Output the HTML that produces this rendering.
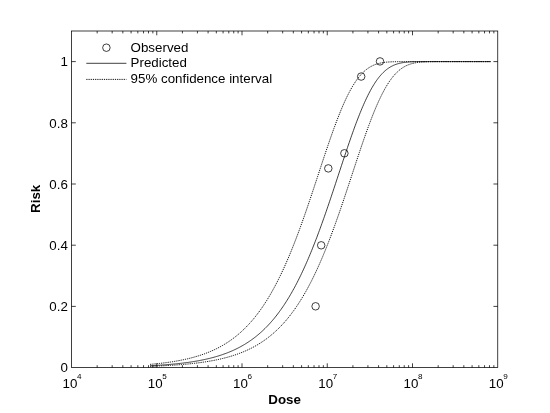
<!DOCTYPE html>
<html><head><meta charset="utf-8"><style>
html,body{margin:0;padding:0;background:#fff;width:550px;height:413px;overflow:hidden}
svg{display:block}
text{font-family:"Liberation Sans",Arial,sans-serif;fill:#000}
</style></head><body>
<svg width="550" height="413" viewBox="0 0 550 413">
<rect width="550" height="413" fill="#fff"/>

<polyline points="150.10,364.37 150.95,364.30 151.80,364.22 152.65,364.14 153.50,364.06 154.35,363.98 155.21,363.90 156.06,363.81 156.91,363.72 157.76,363.63 158.61,363.54 159.46,363.45 160.31,363.35 161.16,363.25 162.01,363.15 162.86,363.05 163.71,362.95 164.56,362.84 165.41,362.73 166.27,362.62 167.12,362.50 167.97,362.38 168.82,362.26 169.67,362.14 170.52,362.01 171.37,361.89 172.22,361.75 173.07,361.62 173.92,361.48 174.77,361.34 175.62,361.20 176.48,361.05 177.33,360.90 178.18,360.75 179.03,360.59 179.88,360.43 180.73,360.26 181.58,360.09 182.43,359.92 183.28,359.75 184.13,359.57 184.98,359.38 185.83,359.19 186.68,359.00 187.54,358.80 188.39,358.60 189.24,358.40 190.09,358.19 190.94,357.97 191.79,357.75 192.64,357.52 193.49,357.29 194.34,357.06 195.19,356.82 196.04,356.57 196.89,356.32 197.75,356.06 198.60,355.80 199.45,355.53 200.30,355.26 201.15,354.98 202.00,354.69 202.85,354.39 203.70,354.09 204.55,353.79 205.40,353.47 206.25,353.15 207.10,352.83 207.95,352.49 208.81,352.15 209.66,351.80 210.51,351.44 211.36,351.08 212.21,350.70 213.06,350.32 213.91,349.93 214.76,349.53 215.61,349.13 216.46,348.71 217.31,348.29 218.16,347.85 219.01,347.41 219.87,346.96 220.72,346.49 221.57,346.02 222.42,345.54 223.27,345.04 224.12,344.54 224.97,344.02 225.82,343.50 226.67,342.96 227.52,342.41 228.37,341.85 229.22,341.28 230.08,340.70 230.93,340.10 231.78,339.49 232.63,338.87 233.48,338.23 234.33,337.59 235.18,336.92 236.03,336.25 236.88,335.56 237.73,334.86 238.58,334.14 239.43,333.41 240.28,332.66 241.14,331.90 241.99,331.12 242.84,330.32 243.69,329.51 244.54,328.69 245.39,327.84 246.24,326.98 247.09,326.11 247.94,325.21 248.79,324.30 249.64,323.37 250.49,322.42 251.35,321.45 252.20,320.47 253.05,319.46 253.90,318.44 254.75,317.40 255.60,316.33 256.45,315.25 257.30,314.15 258.15,313.02 259.00,311.88 259.85,310.71 260.70,309.52 261.55,308.31 262.41,307.08 263.26,305.82 264.11,304.55 264.96,303.25 265.81,301.93 266.66,300.58 267.51,299.21 268.36,297.82 269.21,296.40 270.06,294.96 270.91,293.49 271.76,292.00 272.61,290.49 273.47,288.95 274.32,287.38 275.17,285.79 276.02,284.18 276.87,282.54 277.72,280.87 278.57,279.18 279.42,277.46 280.27,275.72 281.12,273.95 281.97,272.15 282.82,270.33 283.68,268.48 284.53,266.61 285.38,264.71 286.23,262.78 287.08,260.83 287.93,258.85 288.78,256.85 289.63,254.82 290.48,252.77 291.33,250.69 292.18,248.58 293.03,246.45 293.88,244.30 294.74,242.12 295.59,239.92 296.44,237.70 297.29,235.45 298.14,233.18 298.99,230.89 299.84,228.58 300.69,226.24 301.54,223.89 302.39,221.51 303.24,219.12 304.09,216.70 304.95,214.27 305.80,211.83 306.65,209.36 307.50,206.88 308.35,204.39 309.20,201.88 310.05,199.36 310.90,196.83 311.75,194.28 312.60,191.73 313.45,189.17 314.30,186.60 315.15,184.03 316.01,181.45 316.86,178.87 317.71,176.28 318.56,173.69 319.41,171.11 320.26,168.52 321.11,165.94 321.96,163.36 322.81,160.79 323.66,158.23 324.51,155.67 325.36,153.13 326.22,150.60 327.07,148.08 327.92,145.57 328.77,143.09 329.62,140.62 330.47,138.17 331.32,135.74 332.17,133.34 333.02,130.96 333.87,128.61 334.72,126.29 335.57,123.99 336.42,121.73 337.28,119.49 338.13,117.30 338.98,115.13 339.83,113.01 340.68,110.92 341.53,108.87 342.38,106.86 343.23,104.90 344.08,102.97 344.93,101.09 345.78,99.26 346.63,97.47 347.48,95.72 348.34,94.03 349.19,92.38 350.04,90.78 350.89,89.23 351.74,87.72 352.59,86.27 353.44,84.87 354.29,83.52 355.14,82.21 355.99,80.96 356.84,79.76 357.69,78.60 358.55,77.50 359.40,76.44 360.25,75.43 361.10,74.47 361.95,73.56 362.80,72.69 363.65,71.87 364.50,71.09 365.35,70.35 366.20,69.66 367.05,69.01 367.90,68.39 368.75,67.82 369.61,67.28 370.46,66.78 371.31,66.31 372.16,65.87 373.01,65.47 373.86,65.09 374.71,64.75 375.56,64.43 376.41,64.14 377.26,63.87 378.11,63.63 378.96,63.40 379.82,63.20 380.67,63.02 381.52,62.85 382.37,62.70 383.22,62.57 384.07,62.44 384.92,62.34 385.77,62.24 386.62,62.15 387.47,62.08 388.32,62.01 389.17,61.95 390.02,61.90 390.88,61.86 391.73,61.82 392.58,61.78 393.43,61.76 394.28,61.73 395.13,61.71 395.98,61.69 396.83,61.67 397.68,61.66 398.53,61.65 399.38,61.64 400.23,61.63 401.09,61.63 401.94,61.62 402.79,61.62 403.64,61.61 404.49,61.61 405.34,61.61 406.19,61.61 407.04,61.61 407.89,61.60 408.74,61.60 409.59,61.60 410.44,61.60 411.29,61.60 412.15,61.60 413.00,61.60 413.85,61.60 414.70,61.60 415.55,61.60 416.40,61.60 417.25,61.60 418.10,61.60 418.95,61.60 419.80,61.60 420.65,61.60 421.50,61.60 422.35,61.60 423.21,61.60 424.06,61.60 424.91,61.60 425.76,61.60 426.61,61.60 427.46,61.60 428.31,61.60 429.16,61.60 430.01,61.60 430.86,61.60 431.71,61.60 432.56,61.60 433.42,61.60 434.27,61.60 435.12,61.60 435.97,61.60 436.82,61.60 437.67,61.60 438.52,61.60 439.37,61.60 440.22,61.60 441.07,61.60 441.92,61.60 442.77,61.60 443.62,61.60 444.48,61.60 445.33,61.60 446.18,61.60 447.03,61.60 447.88,61.60 448.73,61.60 449.58,61.60 450.43,61.60 451.28,61.60 452.13,61.60 452.98,61.60 453.83,61.60 454.69,61.60 455.54,61.60 456.39,61.60 457.24,61.60 458.09,61.60 458.94,61.60 459.79,61.60 460.64,61.60 461.49,61.60 462.34,61.60 463.19,61.60 464.04,61.60 464.89,61.60 465.75,61.60 466.60,61.60 467.45,61.60 468.30,61.60 469.15,61.60 470.00,61.60 470.85,61.60 471.70,61.60 472.55,61.60 473.40,61.60 474.25,61.60 475.10,61.60 475.95,61.60 476.81,61.60 477.66,61.60 478.51,61.60 479.36,61.60 480.21,61.60 481.06,61.60 481.91,61.60 482.76,61.60 483.61,61.60 484.46,61.60 485.31,61.60 486.16,61.60 487.02,61.60 487.87,61.60 488.72,61.60 489.57,61.60 490.42,61.60" fill="none" stroke="#000" stroke-width="0.95" stroke-dasharray="1.2 1"/>
<polyline points="150.10,366.30 150.95,366.27 151.80,366.24 152.65,366.21 153.50,366.17 154.35,366.14 155.21,366.11 156.06,366.07 156.91,366.04 157.76,366.00 158.61,365.96 159.46,365.93 160.31,365.89 161.16,365.85 162.01,365.81 162.86,365.76 163.71,365.72 164.56,365.68 165.41,365.63 166.27,365.59 167.12,365.54 167.97,365.49 168.82,365.45 169.67,365.40 170.52,365.34 171.37,365.29 172.22,365.24 173.07,365.18 173.92,365.13 174.77,365.07 175.62,365.01 176.48,364.95 177.33,364.89 178.18,364.83 179.03,364.76 179.88,364.70 180.73,364.63 181.58,364.56 182.43,364.49 183.28,364.42 184.13,364.35 184.98,364.27 185.83,364.20 186.68,364.12 187.54,364.04 188.39,363.95 189.24,363.87 190.09,363.78 190.94,363.70 191.79,363.61 192.64,363.51 193.49,363.42 194.34,363.32 195.19,363.22 196.04,363.12 196.89,363.02 197.75,362.91 198.60,362.81 199.45,362.70 200.30,362.58 201.15,362.47 202.00,362.35 202.85,362.23 203.70,362.10 204.55,361.98 205.40,361.85 206.25,361.71 207.10,361.58 207.95,361.44 208.81,361.30 209.66,361.15 210.51,361.01 211.36,360.85 212.21,360.70 213.06,360.54 213.91,360.38 214.76,360.21 215.61,360.04 216.46,359.87 217.31,359.69 218.16,359.51 219.01,359.33 219.87,359.14 220.72,358.94 221.57,358.74 222.42,358.54 223.27,358.33 224.12,358.12 224.97,357.90 225.82,357.68 226.67,357.46 227.52,357.22 228.37,356.99 229.22,356.75 230.08,356.50 230.93,356.24 231.78,355.99 232.63,355.72 233.48,355.45 234.33,355.17 235.18,354.89 236.03,354.60 236.88,354.31 237.73,354.00 238.58,353.70 239.43,353.38 240.28,353.06 241.14,352.73 241.99,352.39 242.84,352.05 243.69,351.69 244.54,351.33 245.39,350.97 246.24,350.59 247.09,350.21 247.94,349.81 248.79,349.41 249.64,349.00 250.49,348.59 251.35,348.16 252.20,347.72 253.05,347.27 253.90,346.82 254.75,346.35 255.60,345.88 256.45,345.39 257.30,344.89 258.15,344.39 259.00,343.87 259.85,343.34 260.70,342.80 261.55,342.25 262.41,341.68 263.26,341.11 264.11,340.52 264.96,339.92 265.81,339.31 266.66,338.68 267.51,338.04 268.36,337.39 269.21,336.73 270.06,336.05 270.91,335.35 271.76,334.64 272.61,333.92 273.47,333.19 274.32,332.43 275.17,331.67 276.02,330.88 276.87,330.08 277.72,329.27 278.57,328.44 279.42,327.59 280.27,326.72 281.12,325.84 281.97,324.94 282.82,324.02 283.68,323.09 284.53,322.14 285.38,321.16 286.23,320.17 287.08,319.16 287.93,318.13 288.78,317.08 289.63,316.01 290.48,314.92 291.33,313.81 292.18,312.68 293.03,311.53 293.88,310.36 294.74,309.16 295.59,307.95 296.44,306.71 297.29,305.45 298.14,304.16 298.99,302.86 299.84,301.53 300.69,300.17 301.54,298.80 302.39,297.40 303.24,295.97 304.09,294.53 304.95,293.05 305.80,291.56 306.65,290.03 307.50,288.49 308.35,286.91 309.20,285.32 310.05,283.69 310.90,282.05 311.75,280.37 312.60,278.67 313.45,276.95 314.30,275.19 315.15,273.42 316.01,271.61 316.86,269.78 317.71,267.93 318.56,266.05 319.41,264.14 320.26,262.20 321.11,260.24 321.96,258.26 322.81,256.25 323.66,254.21 324.51,252.15 325.36,250.06 326.22,247.95 327.07,245.82 327.92,243.66 328.77,241.47 329.62,239.26 330.47,237.03 331.32,234.78 332.17,232.50 333.02,230.20 333.87,227.88 334.72,225.54 335.57,223.18 336.42,220.80 337.28,218.40 338.13,215.98 338.98,213.55 339.83,211.09 340.68,208.63 341.53,206.14 342.38,203.64 343.23,201.13 344.08,198.61 344.93,196.07 345.78,193.53 346.63,190.97 347.48,188.41 348.34,185.84 349.19,183.26 350.04,180.68 350.89,178.10 351.74,175.51 352.59,172.92 353.44,170.34 354.29,167.75 355.14,165.17 355.99,162.60 356.84,160.03 357.69,157.47 358.55,154.92 359.40,152.37 360.25,149.85 361.10,147.33 361.95,144.83 362.80,142.35 363.65,139.89 364.50,137.45 365.35,135.03 366.20,132.63 367.05,130.26 367.90,127.92 368.75,125.60 369.61,123.31 370.46,121.06 371.31,118.84 372.16,116.65 373.01,114.50 373.86,112.38 374.71,110.31 375.56,108.27 376.41,106.27 377.26,104.32 378.11,102.41 378.96,100.54 379.82,98.72 380.67,96.94 381.52,95.21 382.37,93.53 383.22,91.90 384.07,90.31 384.92,88.77 385.77,87.29 386.62,85.85 387.47,84.46 388.32,83.12 389.17,81.84 390.02,80.60 390.88,79.41 391.73,78.27 392.58,77.18 393.43,76.14 394.28,75.14 395.13,74.20 395.98,73.30 396.83,72.44 397.68,71.63 398.53,70.87 399.38,70.14 400.23,69.46 401.09,68.82 401.94,68.22 402.79,67.65 403.64,67.12 404.49,66.63 405.34,66.17 406.19,65.75 407.04,65.35 407.89,64.99 408.74,64.65 409.59,64.34 410.44,64.06 411.29,63.80 412.15,63.56 413.00,63.34 413.85,63.14 414.70,62.97 415.55,62.80 416.40,62.66 417.25,62.53 418.10,62.41 418.95,62.31 419.80,62.21 420.65,62.13 421.50,62.06 422.35,61.99 423.21,61.94 424.06,61.89 424.91,61.84 425.76,61.81 426.61,61.78 427.46,61.75 428.31,61.72 429.16,61.70 430.01,61.69 430.86,61.67 431.71,61.66 432.56,61.65 433.42,61.64 434.27,61.63 435.12,61.63 435.97,61.62 436.82,61.62 437.67,61.61 438.52,61.61 439.37,61.61 440.22,61.61 441.07,61.60 441.92,61.60 442.77,61.60 443.62,61.60 444.48,61.60 445.33,61.60 446.18,61.60 447.03,61.60 447.88,61.60 448.73,61.60 449.58,61.60 450.43,61.60 451.28,61.60 452.13,61.60 452.98,61.60 453.83,61.60 454.69,61.60 455.54,61.60 456.39,61.60 457.24,61.60 458.09,61.60 458.94,61.60 459.79,61.60 460.64,61.60 461.49,61.60 462.34,61.60 463.19,61.60 464.04,61.60 464.89,61.60 465.75,61.60 466.60,61.60 467.45,61.60 468.30,61.60 469.15,61.60 470.00,61.60 470.85,61.60 471.70,61.60 472.55,61.60 473.40,61.60 474.25,61.60 475.10,61.60 475.95,61.60 476.81,61.60 477.66,61.60 478.51,61.60 479.36,61.60 480.21,61.60 481.06,61.60 481.91,61.60 482.76,61.60 483.61,61.60 484.46,61.60 485.31,61.60 486.16,61.60 487.02,61.60 487.87,61.60 488.72,61.60 489.57,61.60 490.42,61.60" fill="none" stroke="#000" stroke-width="0.95" stroke-dasharray="1.2 1"/>
<polyline points="150.10,365.73 150.95,365.68 151.80,365.64 152.65,365.59 153.50,365.55 154.35,365.50 155.21,365.45 156.06,365.40 156.91,365.35 157.76,365.30 158.61,365.24 159.46,365.19 160.31,365.13 161.16,365.08 162.01,365.02 162.86,364.96 163.71,364.90 164.56,364.83 165.41,364.77 166.27,364.71 167.12,364.64 167.97,364.57 168.82,364.50 169.67,364.43 170.52,364.35 171.37,364.28 172.22,364.20 173.07,364.12 173.92,364.04 174.77,363.96 175.62,363.88 176.48,363.79 177.33,363.70 178.18,363.61 179.03,363.52 179.88,363.43 180.73,363.33 181.58,363.23 182.43,363.13 183.28,363.03 184.13,362.92 184.98,362.82 185.83,362.71 186.68,362.59 187.54,362.48 188.39,362.36 189.24,362.24 190.09,362.12 190.94,361.99 191.79,361.86 192.64,361.73 193.49,361.59 194.34,361.45 195.19,361.31 196.04,361.17 196.89,361.02 197.75,360.87 198.60,360.71 199.45,360.56 200.30,360.39 201.15,360.23 202.00,360.06 202.85,359.89 203.70,359.71 204.55,359.53 205.40,359.34 206.25,359.15 207.10,358.96 207.95,358.76 208.81,358.56 209.66,358.35 210.51,358.14 211.36,357.93 212.21,357.70 213.06,357.48 213.91,357.25 214.76,357.01 215.61,356.77 216.46,356.52 217.31,356.27 218.16,356.01 219.01,355.75 219.87,355.48 220.72,355.20 221.57,354.92 222.42,354.63 223.27,354.34 224.12,354.03 224.97,353.73 225.82,353.41 226.67,353.09 227.52,352.76 228.37,352.42 229.22,352.08 230.08,351.73 230.93,351.37 231.78,351.00 232.63,350.63 233.48,350.24 234.33,349.85 235.18,349.45 236.03,349.04 236.88,348.63 237.73,348.20 238.58,347.76 239.43,347.32 240.28,346.86 241.14,346.40 241.99,345.92 242.84,345.44 243.69,344.94 244.54,344.44 245.39,343.92 246.24,343.39 247.09,342.85 247.94,342.30 248.79,341.74 249.64,341.16 250.49,340.58 251.35,339.98 252.20,339.37 253.05,338.74 253.90,338.11 254.75,337.45 255.60,336.79 256.45,336.11 257.30,335.42 258.15,334.71 259.00,333.99 259.85,333.26 260.70,332.51 261.55,331.74 262.41,330.96 263.26,330.16 264.11,329.35 264.96,328.52 265.81,327.67 266.66,326.81 267.51,325.93 268.36,325.03 269.21,324.11 270.06,323.18 270.91,322.23 271.76,321.26 272.61,320.27 273.47,319.26 274.32,318.23 275.17,317.18 276.02,316.12 276.87,315.03 277.72,313.92 278.57,312.79 279.42,311.64 280.27,310.47 281.12,309.28 281.97,308.06 282.82,306.83 283.68,305.57 284.53,304.29 285.38,302.98 286.23,301.66 287.08,300.31 287.93,298.93 288.78,297.53 289.63,296.11 290.48,294.67 291.33,293.20 292.18,291.70 293.03,290.18 293.88,288.64 294.74,287.07 295.59,285.47 296.44,283.85 297.29,282.21 298.14,280.53 298.99,278.84 299.84,277.11 300.69,275.36 301.54,273.59 302.39,271.79 303.24,269.96 304.09,268.11 304.95,266.23 305.80,264.32 306.65,262.39 307.50,260.44 308.35,258.45 309.20,256.44 310.05,254.41 310.90,252.35 311.75,250.27 312.60,248.16 313.45,246.02 314.30,243.87 315.15,241.68 316.01,239.48 316.86,237.25 317.71,235.00 318.56,232.72 319.41,230.43 320.26,228.11 321.11,225.77 321.96,223.41 322.81,221.03 323.66,218.63 324.51,216.22 325.36,213.78 326.22,211.33 327.07,208.86 327.92,206.38 328.77,203.89 329.62,201.37 330.47,198.85 331.32,196.32 332.17,193.77 333.02,191.22 333.87,188.66 334.72,186.09 335.57,183.51 336.42,180.93 337.28,178.35 338.13,175.76 338.98,173.17 339.83,170.59 340.68,168.00 341.53,165.42 342.38,162.85 343.23,160.28 344.08,157.71 344.93,155.16 345.78,152.62 346.63,150.09 347.48,147.57 348.34,145.07 349.19,142.59 350.04,140.13 350.89,137.68 351.74,135.26 352.59,132.86 353.44,130.49 354.29,128.14 355.14,125.82 355.99,123.53 356.84,121.28 357.69,119.05 358.55,116.86 359.40,114.70 360.25,112.59 361.10,110.51 361.95,108.46 362.80,106.46 363.65,104.51 364.50,102.59 365.35,100.72 366.20,98.89 367.05,97.11 367.90,95.38 368.75,93.69 369.61,92.05 370.46,90.46 371.31,88.92 372.16,87.43 373.01,85.99 373.86,84.59 374.71,83.25 375.56,81.96 376.41,80.72 377.26,79.52 378.11,78.38 378.96,77.28 379.82,76.24 380.67,75.24 381.52,74.29 382.37,73.38 383.22,72.52 384.07,71.71 384.92,70.94 385.77,70.21 386.62,69.52 387.47,68.88 388.32,68.27 389.17,67.71 390.02,67.17 390.88,66.68 391.73,66.22 392.58,65.79 393.43,65.39 394.28,65.02 395.13,64.68 395.98,64.37 396.83,64.08 397.68,63.82 398.53,63.58 399.38,63.36 400.23,63.16 401.09,62.98 401.94,62.82 402.79,62.67 403.64,62.54 404.49,62.42 405.34,62.32 406.19,62.22 407.04,62.14 407.89,62.06 408.74,62.00 409.59,61.94 410.44,61.89 411.29,61.85 412.15,61.81 413.00,61.78 413.85,61.75 414.70,61.73 415.55,61.70 416.40,61.69 417.25,61.67 418.10,61.66 418.95,61.65 419.80,61.64 420.65,61.63 421.50,61.63 422.35,61.62 423.21,61.62 424.06,61.61 424.91,61.61 425.76,61.61 426.61,61.61 427.46,61.61 428.31,61.60 429.16,61.60 430.01,61.60 430.86,61.60 431.71,61.60 432.56,61.60 433.42,61.60 434.27,61.60 435.12,61.60 435.97,61.60 436.82,61.60 437.67,61.60 438.52,61.60 439.37,61.60 440.22,61.60 441.07,61.60 441.92,61.60 442.77,61.60 443.62,61.60 444.48,61.60 445.33,61.60 446.18,61.60 447.03,61.60 447.88,61.60 448.73,61.60 449.58,61.60 450.43,61.60 451.28,61.60 452.13,61.60 452.98,61.60 453.83,61.60 454.69,61.60 455.54,61.60 456.39,61.60 457.24,61.60 458.09,61.60 458.94,61.60 459.79,61.60 460.64,61.60 461.49,61.60 462.34,61.60 463.19,61.60 464.04,61.60 464.89,61.60 465.75,61.60 466.60,61.60 467.45,61.60 468.30,61.60 469.15,61.60 470.00,61.60 470.85,61.60 471.70,61.60 472.55,61.60 473.40,61.60 474.25,61.60 475.10,61.60 475.95,61.60 476.81,61.60 477.66,61.60 478.51,61.60 479.36,61.60 480.21,61.60 481.06,61.60 481.91,61.60 482.76,61.60 483.61,61.60 484.46,61.60 485.31,61.60 486.16,61.60 487.02,61.60 487.87,61.60 488.72,61.60 489.57,61.60 490.42,61.60" fill="none" stroke="#000" stroke-width="0.75"/>
<circle cx="315.6" cy="306.3" r="3.75" fill="none" stroke="#000" stroke-width="0.75"/>
<circle cx="321.2" cy="245.3" r="3.75" fill="none" stroke="#000" stroke-width="0.75"/>
<circle cx="328.3" cy="168.4" r="3.75" fill="none" stroke="#000" stroke-width="0.75"/>
<circle cx="344.4" cy="153.3" r="3.75" fill="none" stroke="#000" stroke-width="0.75"/>
<circle cx="361.2" cy="76.55" r="3.75" fill="none" stroke="#000" stroke-width="0.75"/>
<circle cx="380.0" cy="61.4" r="3.75" fill="none" stroke="#000" stroke-width="0.75"/>
<rect x="71.5" y="31.0" width="426.25" height="336.6" fill="none" stroke="#000" stroke-width="0.75"/>
<line x1="97.16" y1="367.6" x2="97.16" y2="365.20000000000005" stroke="#000" stroke-width="0.75"/>
<line x1="97.16" y1="31.0" x2="97.16" y2="33.4" stroke="#000" stroke-width="0.75"/>
<line x1="112.17" y1="367.6" x2="112.17" y2="365.20000000000005" stroke="#000" stroke-width="0.75"/>
<line x1="112.17" y1="31.0" x2="112.17" y2="33.4" stroke="#000" stroke-width="0.75"/>
<line x1="122.83" y1="367.6" x2="122.83" y2="365.20000000000005" stroke="#000" stroke-width="0.75"/>
<line x1="122.83" y1="31.0" x2="122.83" y2="33.4" stroke="#000" stroke-width="0.75"/>
<line x1="131.09" y1="367.6" x2="131.09" y2="365.20000000000005" stroke="#000" stroke-width="0.75"/>
<line x1="131.09" y1="31.0" x2="131.09" y2="33.4" stroke="#000" stroke-width="0.75"/>
<line x1="137.84" y1="367.6" x2="137.84" y2="365.20000000000005" stroke="#000" stroke-width="0.75"/>
<line x1="137.84" y1="31.0" x2="137.84" y2="33.4" stroke="#000" stroke-width="0.75"/>
<line x1="143.54" y1="367.6" x2="143.54" y2="365.20000000000005" stroke="#000" stroke-width="0.75"/>
<line x1="143.54" y1="31.0" x2="143.54" y2="33.4" stroke="#000" stroke-width="0.75"/>
<line x1="148.49" y1="367.6" x2="148.49" y2="365.20000000000005" stroke="#000" stroke-width="0.75"/>
<line x1="148.49" y1="31.0" x2="148.49" y2="33.4" stroke="#000" stroke-width="0.75"/>
<line x1="152.85" y1="367.6" x2="152.85" y2="365.20000000000005" stroke="#000" stroke-width="0.75"/>
<line x1="152.85" y1="31.0" x2="152.85" y2="33.4" stroke="#000" stroke-width="0.75"/>
<line x1="156.75" y1="367.6" x2="156.75" y2="363.3" stroke="#000" stroke-width="0.75"/>
<line x1="156.75" y1="31.0" x2="156.75" y2="35.3" stroke="#000" stroke-width="0.75"/>
<line x1="182.41" y1="367.6" x2="182.41" y2="365.20000000000005" stroke="#000" stroke-width="0.75"/>
<line x1="182.41" y1="31.0" x2="182.41" y2="33.4" stroke="#000" stroke-width="0.75"/>
<line x1="197.42" y1="367.6" x2="197.42" y2="365.20000000000005" stroke="#000" stroke-width="0.75"/>
<line x1="197.42" y1="31.0" x2="197.42" y2="33.4" stroke="#000" stroke-width="0.75"/>
<line x1="208.08" y1="367.6" x2="208.08" y2="365.20000000000005" stroke="#000" stroke-width="0.75"/>
<line x1="208.08" y1="31.0" x2="208.08" y2="33.4" stroke="#000" stroke-width="0.75"/>
<line x1="216.34" y1="367.6" x2="216.34" y2="365.20000000000005" stroke="#000" stroke-width="0.75"/>
<line x1="216.34" y1="31.0" x2="216.34" y2="33.4" stroke="#000" stroke-width="0.75"/>
<line x1="223.09" y1="367.6" x2="223.09" y2="365.20000000000005" stroke="#000" stroke-width="0.75"/>
<line x1="223.09" y1="31.0" x2="223.09" y2="33.4" stroke="#000" stroke-width="0.75"/>
<line x1="228.79" y1="367.6" x2="228.79" y2="365.20000000000005" stroke="#000" stroke-width="0.75"/>
<line x1="228.79" y1="31.0" x2="228.79" y2="33.4" stroke="#000" stroke-width="0.75"/>
<line x1="233.74" y1="367.6" x2="233.74" y2="365.20000000000005" stroke="#000" stroke-width="0.75"/>
<line x1="233.74" y1="31.0" x2="233.74" y2="33.4" stroke="#000" stroke-width="0.75"/>
<line x1="238.10" y1="367.6" x2="238.10" y2="365.20000000000005" stroke="#000" stroke-width="0.75"/>
<line x1="238.10" y1="31.0" x2="238.10" y2="33.4" stroke="#000" stroke-width="0.75"/>
<line x1="242.00" y1="367.6" x2="242.00" y2="363.3" stroke="#000" stroke-width="0.75"/>
<line x1="242.00" y1="31.0" x2="242.00" y2="35.3" stroke="#000" stroke-width="0.75"/>
<line x1="267.66" y1="367.6" x2="267.66" y2="365.20000000000005" stroke="#000" stroke-width="0.75"/>
<line x1="267.66" y1="31.0" x2="267.66" y2="33.4" stroke="#000" stroke-width="0.75"/>
<line x1="282.67" y1="367.6" x2="282.67" y2="365.20000000000005" stroke="#000" stroke-width="0.75"/>
<line x1="282.67" y1="31.0" x2="282.67" y2="33.4" stroke="#000" stroke-width="0.75"/>
<line x1="293.33" y1="367.6" x2="293.33" y2="365.20000000000005" stroke="#000" stroke-width="0.75"/>
<line x1="293.33" y1="31.0" x2="293.33" y2="33.4" stroke="#000" stroke-width="0.75"/>
<line x1="301.59" y1="367.6" x2="301.59" y2="365.20000000000005" stroke="#000" stroke-width="0.75"/>
<line x1="301.59" y1="31.0" x2="301.59" y2="33.4" stroke="#000" stroke-width="0.75"/>
<line x1="308.34" y1="367.6" x2="308.34" y2="365.20000000000005" stroke="#000" stroke-width="0.75"/>
<line x1="308.34" y1="31.0" x2="308.34" y2="33.4" stroke="#000" stroke-width="0.75"/>
<line x1="314.04" y1="367.6" x2="314.04" y2="365.20000000000005" stroke="#000" stroke-width="0.75"/>
<line x1="314.04" y1="31.0" x2="314.04" y2="33.4" stroke="#000" stroke-width="0.75"/>
<line x1="318.99" y1="367.6" x2="318.99" y2="365.20000000000005" stroke="#000" stroke-width="0.75"/>
<line x1="318.99" y1="31.0" x2="318.99" y2="33.4" stroke="#000" stroke-width="0.75"/>
<line x1="323.35" y1="367.6" x2="323.35" y2="365.20000000000005" stroke="#000" stroke-width="0.75"/>
<line x1="323.35" y1="31.0" x2="323.35" y2="33.4" stroke="#000" stroke-width="0.75"/>
<line x1="327.25" y1="367.6" x2="327.25" y2="363.3" stroke="#000" stroke-width="0.75"/>
<line x1="327.25" y1="31.0" x2="327.25" y2="35.3" stroke="#000" stroke-width="0.75"/>
<line x1="352.91" y1="367.6" x2="352.91" y2="365.20000000000005" stroke="#000" stroke-width="0.75"/>
<line x1="352.91" y1="31.0" x2="352.91" y2="33.4" stroke="#000" stroke-width="0.75"/>
<line x1="367.92" y1="367.6" x2="367.92" y2="365.20000000000005" stroke="#000" stroke-width="0.75"/>
<line x1="367.92" y1="31.0" x2="367.92" y2="33.4" stroke="#000" stroke-width="0.75"/>
<line x1="378.58" y1="367.6" x2="378.58" y2="365.20000000000005" stroke="#000" stroke-width="0.75"/>
<line x1="378.58" y1="31.0" x2="378.58" y2="33.4" stroke="#000" stroke-width="0.75"/>
<line x1="386.84" y1="367.6" x2="386.84" y2="365.20000000000005" stroke="#000" stroke-width="0.75"/>
<line x1="386.84" y1="31.0" x2="386.84" y2="33.4" stroke="#000" stroke-width="0.75"/>
<line x1="393.59" y1="367.6" x2="393.59" y2="365.20000000000005" stroke="#000" stroke-width="0.75"/>
<line x1="393.59" y1="31.0" x2="393.59" y2="33.4" stroke="#000" stroke-width="0.75"/>
<line x1="399.29" y1="367.6" x2="399.29" y2="365.20000000000005" stroke="#000" stroke-width="0.75"/>
<line x1="399.29" y1="31.0" x2="399.29" y2="33.4" stroke="#000" stroke-width="0.75"/>
<line x1="404.24" y1="367.6" x2="404.24" y2="365.20000000000005" stroke="#000" stroke-width="0.75"/>
<line x1="404.24" y1="31.0" x2="404.24" y2="33.4" stroke="#000" stroke-width="0.75"/>
<line x1="408.60" y1="367.6" x2="408.60" y2="365.20000000000005" stroke="#000" stroke-width="0.75"/>
<line x1="408.60" y1="31.0" x2="408.60" y2="33.4" stroke="#000" stroke-width="0.75"/>
<line x1="412.50" y1="367.6" x2="412.50" y2="363.3" stroke="#000" stroke-width="0.75"/>
<line x1="412.50" y1="31.0" x2="412.50" y2="35.3" stroke="#000" stroke-width="0.75"/>
<line x1="438.16" y1="367.6" x2="438.16" y2="365.20000000000005" stroke="#000" stroke-width="0.75"/>
<line x1="438.16" y1="31.0" x2="438.16" y2="33.4" stroke="#000" stroke-width="0.75"/>
<line x1="453.17" y1="367.6" x2="453.17" y2="365.20000000000005" stroke="#000" stroke-width="0.75"/>
<line x1="453.17" y1="31.0" x2="453.17" y2="33.4" stroke="#000" stroke-width="0.75"/>
<line x1="463.83" y1="367.6" x2="463.83" y2="365.20000000000005" stroke="#000" stroke-width="0.75"/>
<line x1="463.83" y1="31.0" x2="463.83" y2="33.4" stroke="#000" stroke-width="0.75"/>
<line x1="472.09" y1="367.6" x2="472.09" y2="365.20000000000005" stroke="#000" stroke-width="0.75"/>
<line x1="472.09" y1="31.0" x2="472.09" y2="33.4" stroke="#000" stroke-width="0.75"/>
<line x1="478.84" y1="367.6" x2="478.84" y2="365.20000000000005" stroke="#000" stroke-width="0.75"/>
<line x1="478.84" y1="31.0" x2="478.84" y2="33.4" stroke="#000" stroke-width="0.75"/>
<line x1="484.54" y1="367.6" x2="484.54" y2="365.20000000000005" stroke="#000" stroke-width="0.75"/>
<line x1="484.54" y1="31.0" x2="484.54" y2="33.4" stroke="#000" stroke-width="0.75"/>
<line x1="489.49" y1="367.6" x2="489.49" y2="365.20000000000005" stroke="#000" stroke-width="0.75"/>
<line x1="489.49" y1="31.0" x2="489.49" y2="33.4" stroke="#000" stroke-width="0.75"/>
<line x1="493.85" y1="367.6" x2="493.85" y2="365.20000000000005" stroke="#000" stroke-width="0.75"/>
<line x1="493.85" y1="31.0" x2="493.85" y2="33.4" stroke="#000" stroke-width="0.75"/>
<line x1="71.5" y1="306.40" x2="75.8" y2="306.40" stroke="#000" stroke-width="0.75"/>
<line x1="497.75" y1="306.40" x2="493.45" y2="306.40" stroke="#000" stroke-width="0.75"/>
<line x1="71.5" y1="245.20" x2="75.8" y2="245.20" stroke="#000" stroke-width="0.75"/>
<line x1="497.75" y1="245.20" x2="493.45" y2="245.20" stroke="#000" stroke-width="0.75"/>
<line x1="71.5" y1="184.00" x2="75.8" y2="184.00" stroke="#000" stroke-width="0.75"/>
<line x1="497.75" y1="184.00" x2="493.45" y2="184.00" stroke="#000" stroke-width="0.75"/>
<line x1="71.5" y1="122.80" x2="75.8" y2="122.80" stroke="#000" stroke-width="0.75"/>
<line x1="497.75" y1="122.80" x2="493.45" y2="122.80" stroke="#000" stroke-width="0.75"/>
<line x1="71.5" y1="61.60" x2="75.8" y2="61.60" stroke="#000" stroke-width="0.75"/>
<line x1="497.75" y1="61.60" x2="493.45" y2="61.60" stroke="#000" stroke-width="0.75"/>
<text x="67.8" y="372.30" font-size="13.33" text-anchor="end">0</text>
<text x="67.8" y="311.10" font-size="13.33" text-anchor="end">0.2</text>
<text x="67.8" y="249.90" font-size="13.33" text-anchor="end">0.4</text>
<text x="67.8" y="188.70" font-size="13.33" text-anchor="end">0.6</text>
<text x="67.8" y="127.50" font-size="13.33" text-anchor="end">0.8</text>
<text x="67.8" y="66.30" font-size="13.33" text-anchor="end">1</text>
<text x="70.00" y="387.6" font-size="13.33" text-anchor="middle">10</text>
<text x="76.90" y="379.3" font-size="8.1">4</text>
<text x="155.25" y="387.6" font-size="13.33" text-anchor="middle">10</text>
<text x="162.15" y="379.3" font-size="8.1">5</text>
<text x="240.50" y="387.6" font-size="13.33" text-anchor="middle">10</text>
<text x="247.40" y="379.3" font-size="8.1">6</text>
<text x="325.75" y="387.6" font-size="13.33" text-anchor="middle">10</text>
<text x="332.65" y="379.3" font-size="8.1">7</text>
<text x="411.00" y="387.6" font-size="13.33" text-anchor="middle">10</text>
<text x="417.90" y="379.3" font-size="8.1">8</text>
<text x="496.25" y="387.6" font-size="13.33" text-anchor="middle">10</text>
<text x="503.15" y="379.3" font-size="8.1">9</text>
<text x="284.6" y="403.8" font-size="13.33" font-weight="bold" text-anchor="middle">Dose</text>
<text transform="translate(40.3,198.8) rotate(-90)" font-size="13.33" font-weight="bold" text-anchor="middle">Risk</text>
<circle cx="106.4" cy="47.7" r="3.75" fill="none" stroke="#000" stroke-width="0.75"/>
<line x1="86.3" y1="63.3" x2="126.4" y2="63.3" stroke="#000" stroke-width="0.75"/>
<line x1="86.3" y1="79.4" x2="126.4" y2="79.4" stroke="#000" stroke-width="0.95" stroke-dasharray="1.2 1"/>
<text x="130.6" y="51.6" font-size="13.33">Observed</text>
<text x="130.6" y="67.4" font-size="13.33">Predicted</text>
<text x="130.6" y="83.2" font-size="13.33">95% confidence interval</text>
</svg></body></html>
